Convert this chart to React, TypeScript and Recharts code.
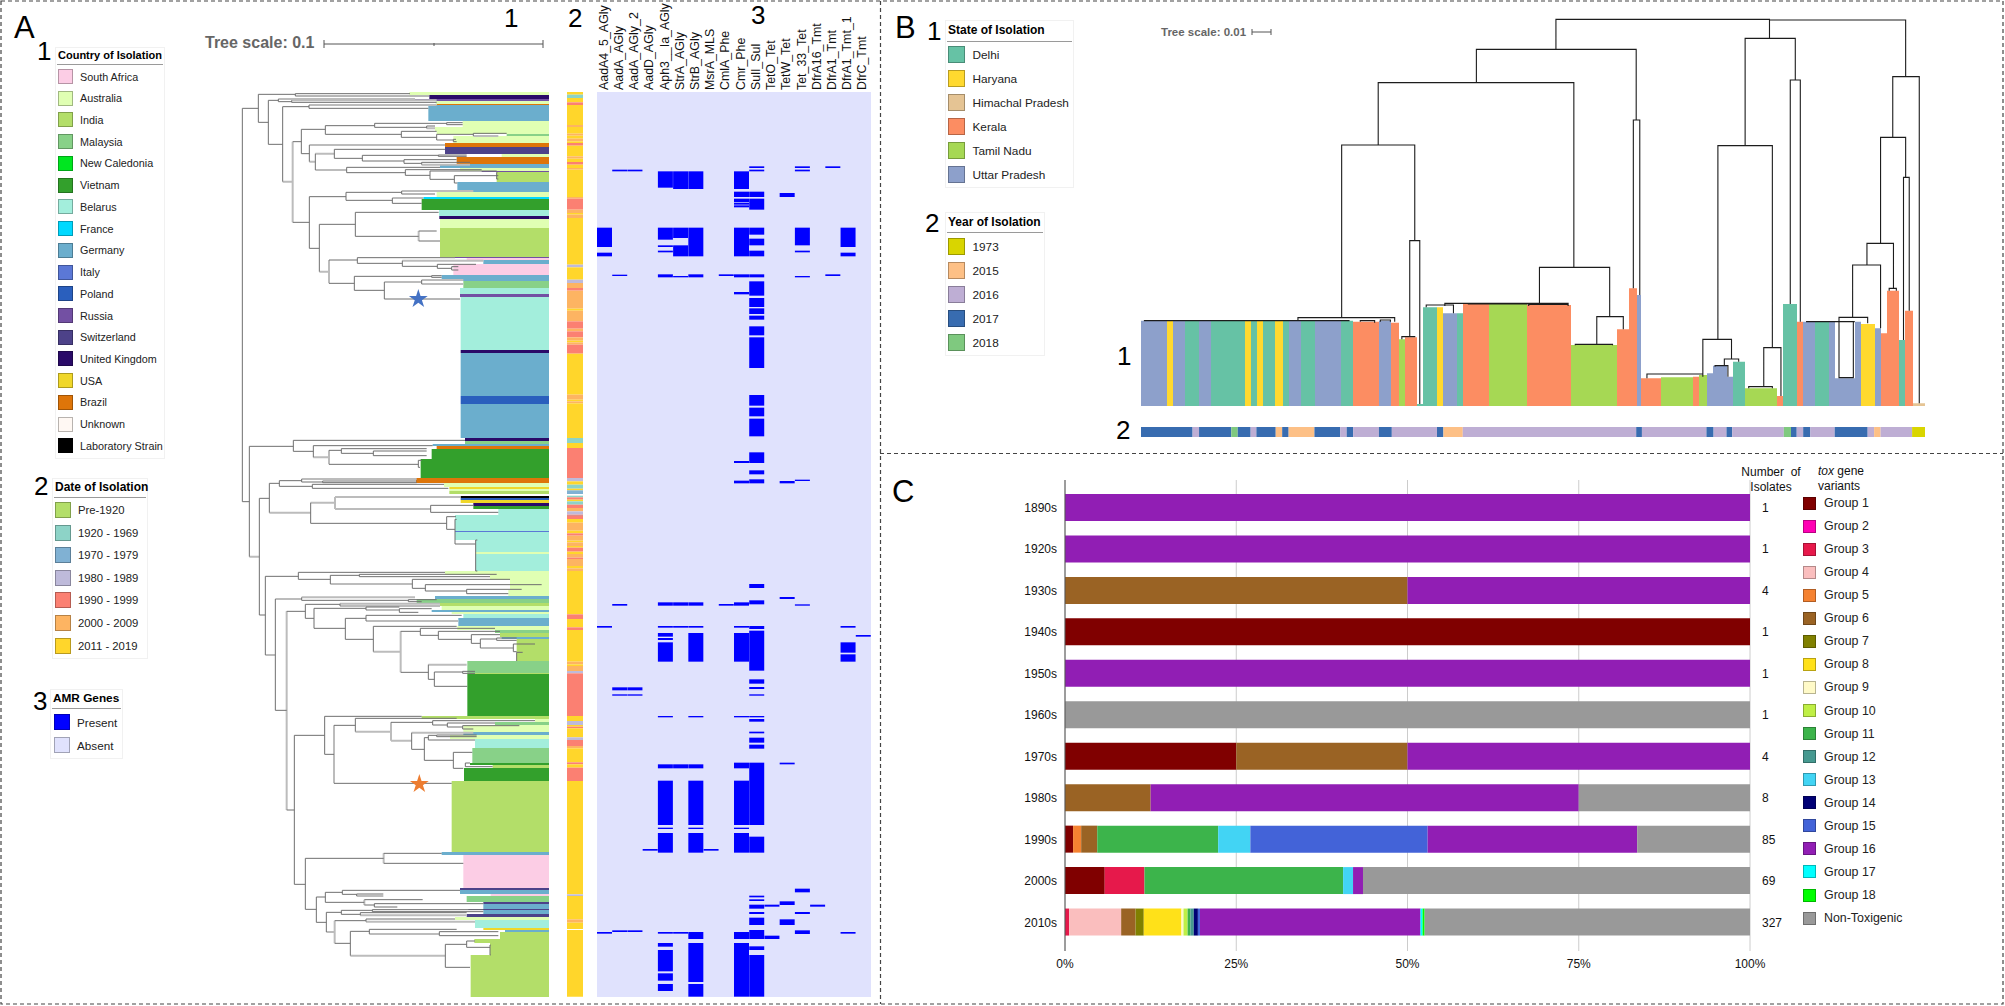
import React from "react"
import {
  Bar,
  BarChart,
  CartesianGrid,
  Cell,
  ComposedChart,
  Line,
  Scatter,
  XAxis,
  YAxis,
  ZAxis,
} from "recharts"

const FONT = '"Liberation Sans", Arial, sans-serif'

// ---------- Panel A legends ----------
const countryColors: Record<string, string> = {
  "South Africa": "#fccde5",
  Australia: "#e0ffb3",
  India: "#b3de69",
  Malaysia: "#88d188",
  "New Caledonia": "#00e620",
  Vietnam: "#33a02c",
  Belarus: "#a3eedc",
  France: "#00d9ff",
  Germany: "#6baecd",
  Italy: "#5b78d6",
  Poland: "#2a5fbd",
  Russia: "#7350a3",
  Switzerland: "#4d4289",
  "United Kingdom": "#2a0a68",
  USA: "#f0d72a",
  Brazil: "#de7509",
  Unknown: "#fff8f3",
  "Laboratory Strain": "#000000",
}
const dateColors: Record<string, string> = {
  "Pre-1920": "#b3de69",
  "1920 - 1969": "#8dd3c7",
  "1970 - 1979": "#80b1d3",
  "1980 - 1989": "#bebada",
  "1990 - 1999": "#fb8072",
  "2000 - 2009": "#fdb462",
  "2011 - 2019": "#ffd62b",
}
const amrColors: Record<string, string> = { Present: "#0000ff", Absent: "#e0e2fd" }

// ---------- Panel A country strip: [country, last row, tip depth] ----------
const countryRuns: [string, number, number][] = [
  ["Australia", 3, 508], ["United Kingdom", 7, 568], ["Russia", 9, 525], ["Australia", 12, 587],
  ["Brazil", 13, 590], ["Germany", 29, 565], ["Australia", 35, 668], ["Australia", 39, 585],
  ["Australia", 42, 590], ["Malaysia", 44, 800], ["Australia", 51, 640], ["Brazil", 55, 615],
  ["Switzerland", 62, 615], ["Australia", 65, 785], ["Brazil", 72, 650], ["Germany", 76, 600],
  ["Australia", 79, 660], ["Russia", 80, 725], ["India", 90, 770], ["Germany", 100, 652],
  ["Australia", 105, 590], ["France", 107, 550], ["Vietnam", 118, 545], ["Belarus", 124, 597],
  ["United Kingdom", 127, 598], ["Australia", 136, 600], ["India", 165, 600], ["Russia", 166, 645],
  ["South Africa", 168, 680], ["Germany", 172, 730], ["South Africa", 183, 640], ["Germany", 189, 605],
  ["Malaysia", 196, 670], ["Belarus", 202, 660], ["Russia", 205, 660], ["Belarus", 258, 662],
  ["United Kingdom", 261, 662], ["Germany", 304, 662], ["Poland", 312, 662], ["Germany", 346, 662],
  ["United Kingdom", 349, 675], ["Malaysia", 352, 675], ["Germany", 354, 578], ["Brazil", 357, 590],
  ["Vietnam", 367, 575], ["Vietnam", 386, 542], ["Brazil", 391, 528], ["Australia", 395, 612],
  ["USA", 397, 628], ["Australia", 399, 628], ["India", 402, 628], ["", 404, 0],
  ["Laboratory Strain", 406, 662], ["Poland", 408, 662], ["USA", 411, 662], ["United Kingdom", 414, 700],
  ["Vietnam", 417, 700], ["Belarus", 423, 775], ["Belarus", 439, 645], ["Italy", 440, 645],
  ["Belarus", 448, 645], ["Belarus", 460, 707], ["Australia", 462, 707], ["Belarus", 479, 707],
  ["Australia", 483, 615], ["Australia", 488, 750], ["Australia", 498, 810], ["Australia", 504, 805],
  ["Germany", 507, 585], ["Malaysia", 511, 530], ["India", 514, 600], ["Australia", 518, 605],
  ["Germany", 520, 575], ["Australia", 522, 635], ["Belarus", 526, 670], ["Germany", 534, 655],
  ["Australia", 538, 652], ["Malaysia", 541, 765], ["India", 545, 780], ["Germany", 547, 785],
  ["India", 569, 830], ["Malaysia", 581, 682], ["India", 582, 682], ["Vietnam", 624, 682],
  ["India", 627, 545], ["Australia", 630, 885], ["Malaysia", 633, 765], ["Australia", 640, 670],
  ["Germany", 643, 670], ["Australia", 647, 630], ["Belarus", 656, 705], ["Malaysia", 671, 697],
  ["Vietnam", 673, 690], ["India", 676, 758], ["Vietnam", 689, 672], ["India", 760, 635],
  ["Germany", 763, 605], ["South Africa", 796, 670], ["Switzerland", 798, 660], ["Germany", 802, 660],
  ["South Africa", 804, 752], ["Malaysia", 810, 680], ["Switzerland", 812, 730], ["Germany", 817, 730],
  ["Switzerland", 818, 685], ["Germany", 822, 730], ["Switzerland", 825, 680], ["Australia", 828, 645],
  ["Belarus", 836, 705], ["USA", 838, 730], ["Germany", 840, 795], ["India", 847, 780],
  ["India", 851, 703], ["India", 863, 750], ["India", 905, 692],
]

// ---------- Panel A date strip: [period, end], upper and lower stretch ----------
const dateUpper: [string, number][] = [
  ["2011 - 2019", 165], ["1920 - 1969", 175], ["2011 - 2019", 188], ["1990 - 1999", 196], ["2011 - 2019", 256],
  ["2000 - 2009", 262], ["2011 - 2019", 282], ["2000 - 2009", 288], ["2011 - 2019", 297], ["2000 - 2009", 305],
  ["2011 - 2019", 310], ["1990 - 1999", 318], ["2011 - 2019", 350], ["2000 - 2009", 357], ["2011 - 2019", 367],
  ["1990 - 1999", 375], ["2011 - 2019", 385], ["2000 - 2009", 390], ["2011 - 2019", 472], ["2000 - 2009", 477],
  ["1990 - 1999", 510], ["2000 - 2009", 520], ["2011 - 2019", 525], ["2000 - 2009", 535], ["2011 - 2019", 675],
  ["1980 - 1989", 683], ["2011 - 2019", 720], ["1980 - 1989", 730], ["2000 - 2009", 745], ["1990 - 1999", 753],
  ["2000 - 2009", 807], ["2011 - 2019", 813], ["2000 - 2009", 845], ["1990 - 1999", 867], ["2000 - 2009", 875],
  ["1990 - 1999", 893], ["2000 - 2009", 903], ["2011 - 2019", 908], ["2000 - 2009", 915], ["1990 - 1999", 942],
  ["2011 - 2019", 1065], ["2000 - 2009", 1080], ["2011 - 2019", 1085], ["2000 - 2009", 1091], ["2011 - 2019", 1195],
  ["1920 - 1969", 1210], ["2011 - 2019", 1225], ["1990 - 1999", 1315], ["1980 - 1989", 1325], ["2011 - 2019", 1335],
  ["1920 - 1969", 1347], ["2011 - 2019", 1352], ["1970 - 1979", 1363], ["", 1368], ["1920 - 1969", 1373],
  ["1990 - 1999", 1380], ["2011 - 2019", 1385], ["1920 - 1969", 1395], ["1990 - 1999", 1405], ["2000 - 2009", 1415],
  ["1980 - 1989", 1425], ["1990 - 1999", 1440],
]
const dateLower: [string, number][] = [
  ["1970 - 1979", 17], ["1990 - 1999", 27], ["2011 - 2019", 38], ["2000 - 2009", 62], ["2011 - 2019", 70],
  ["1990 - 1999", 77], ["2000 - 2009", 92], ["2011 - 2019", 97], ["2000 - 2009", 108], ["2011 - 2019", 113],
  ["1990 - 1999", 125], ["2011 - 2019", 132], ["2000 - 2009", 143], ["1990 - 1999", 147], ["2000 - 2009", 168],
  ["2011 - 2019", 175], ["2000 - 2009", 183], ["2011 - 2019", 313], ["1990 - 1999", 327], ["2011 - 2019", 352],
  ["1990 - 1999", 360], ["2011 - 2019", 455], ["2000 - 2009", 463], ["2011 - 2019", 468], ["2000 - 2009", 483],
  ["1980 - 1989", 490], ["1990 - 1999", 618], ["2011 - 2019", 633], ["1980 - 1989", 645], ["2011 - 2019", 650],
  ["1990 - 1999", 655], ["2011 - 2019", 682], ["1980 - 1989", 690], ["1990 - 1999", 708], ["2000 - 2009", 715],
  ["2011 - 2019", 757], ["1990 - 1999", 763], ["2011 - 2019", 773], ["1990 - 1999", 813], ["2011 - 2019", 1153],
  ["1980 - 1989", 1158], ["2011 - 2019", 1228], ["2000 - 2009", 1238], ["2011 - 2019", 1257], ["", 1260],
  ["2011 - 2019", 1460],
]
const ROW_SPAN = 2715
const UPPER_SHIFT = -157
const LOWER_SHIFT = 1254

// ---------- Panel A AMR genes: present stretches per gene ----------
const genes = [
  "AadA4_5_AGly", "AadA_AGly", "AadA_AGly_2", "AadD_AGly", "Aph3__Ia_AGly", "StrA_AGly", "StrB_AGly", "MsrA_MLS",
  "CmlA_Phe", "Cmr_Phe", "SulI_Sul", "TetO_Tet", "TetW_Tet", "Tet_33_Tet", "DfrA16_Tmt", "DfrA1_Tmt", "DfrA1_Tmt_1", "DfrC_Tmt",
]
type Span = [number, number]
const genesUpper: Span[][] = [
  [[564, 622], [639, 650]],
  [[390, 395], [705, 709]],
  [[390, 395]],
  [],
  [[395, 444], [564, 600], [617, 622], [633, 638], [704, 713]],
  [[395, 448], [564, 595], [617, 650], [709, 713]],
  [[395, 448], [564, 650], [704, 713]],
  [],
  [[704, 709]],
  [[395, 448], [456, 472], [477, 488], [490, 495], [497, 503], [564, 650], [704, 713], [757, 764], [1264, 1270], [1323, 1331]],
  [[380, 385], [390, 395], [456, 472], [477, 510], [564, 585], [597, 617], [633, 650], [704, 713], [725, 768], [775, 802], [806, 823], [828, 840], [860, 887], [893, 985], [1066, 1098], [1104, 1130], [1137, 1190], [1238, 1270], [1292, 1304], [1319, 1331]],
  [],
  [[460, 472], [1324, 1331]],
  [[380, 385], [390, 395], [564, 617], [633, 638], [709, 713], [1320, 1324]],
  [],
  [[380, 385], [704, 709]],
  [[564, 622], [639, 650]],
  [],
]
const genesLower: Span[][] = [
  [[348, 353], [1266, 1271]],
  [[282, 287], [532, 541], [553, 557], [1261, 1266]],
  [[532, 541], [553, 557], [1261, 1266]],
  [[1017, 1022]],
  [[277, 287], [348, 353], [369, 380], [384, 390], [397, 455], [618, 622], [763, 775], [812, 945], [953, 957], [969, 1028], [1266, 1271], [1299, 1310], [1320, 1384], [1390, 1412], [1422, 1443]],
  [[277, 287], [348, 353], [763, 775], [1266, 1271]],
  [[277, 287], [348, 353], [369, 455], [618, 622], [763, 775], [812, 945], [953, 957], [969, 1028], [1266, 1287], [1299, 1416], [1422, 1460]],
  [[1017, 1022]],
  [[282, 287]],
  [[277, 287], [348, 353], [369, 455], [618, 622], [758, 775], [812, 945], [953, 957], [969, 1028], [1266, 1287], [1299, 1460]],
  [[222, 234], [271, 283], [348, 357], [362, 482], [508, 521], [531, 537], [553, 557], [618, 622], [627, 635], [665, 670], [683, 698], [704, 716], [758, 945], [980, 1028], [1157, 1162], [1168, 1173], [1184, 1196], [1206, 1212], [1223, 1245], [1260, 1287], [1309, 1320], [1335, 1460]],
  [[1184, 1190], [1277, 1287]],
  [[261, 267], [758, 763], [1174, 1185], [1228, 1245]],
  [[283, 287], [1136, 1147], [1206, 1212], [1261, 1272]],
  [[1184, 1190]],
  [],
  [[348, 353], [397, 428], [433, 455], [1266, 1271]],
  [[375, 380]],
]

// ---------- Panel A tree: [node depth, top, bottom, top child depth, bottom child depth, thick parts] ----------
type Clade = [number, number, number, number, number, string?]
const treeUpper: Clade[] = [
  [7, 40, 1220, 55, 28], [55, -2, 82, 166, 85], [166, -4, 3, 510, 568], [85, 16, 148, 115, 128],
  [115, 12, 20, 525, 155, "t"], [155, 16, 22, 590, 590, "t"], [128, 35, 260, 207, 158, "b"], [207, 30, 40, 590, 565, "t"],
  [158, 140, 382, 184, 208, "v"], [184, 103, 176, 256, 208], [256, 92, 118, 404, 484], [404, 85, 97, 620, 560],
  [620, 83, 89, 668, 668], [560, 93, 100, 585, 585, "b"], [484, 109, 127, 590, 590], [590, 118, 135, 700, 640, "b"],
  [700, 115, 123, 800, 775, "b"], [640, 133, 140, 648, 650], [208, 150, 200, 615, 226, "tb"], [226, 176, 225, 283, 320, "tb"],
  [283, 163, 190, 615, 367], [367, 181, 198, 595, 492], [595, 180, 184, 680, 680], [492, 194, 205, 650, 545],
  [545, 202, 209, 690, 690, "b"], [320, 217, 233, 600, 496], [496, 224, 241, 725, 570], [570, 228, 253, 770, 643],
  [770, 232, 252, 772, 775], [643, 242, 264, 775, 652], [208, 305, 460, 318, 238], [318, 292, 316, 485, 457],
  [485, 288, 297, 700, 585, "t"], [457, 309, 325, 550, 545, "t"], [238, 388, 530, 346, 267, "b"], [346, 352, 424, 596, 536],
  [536, 408, 438, 590, 600, "v"], [267, 495, 565, 352, 343, "v"], [352, 488, 505, 645, 487], [487, 497, 514, 730, 592, "t"],
  [592, 508, 520, 708, 635], [635, 515, 525, 655, 655], [343, 544, 586, 575, 433], [575, 542, 547, 605, 605],
  [433, 561, 612, 545, 660, "t"], [545, 555, 567, 670, 670, "tb"],
]
const treeMiddle: Clade[] = [
  [28, 409, 740, 160, 58, "b"], [160, 391, 424, 675, 220], [220, 407, 442, 578, 267, "b"], [267, 421, 463, 304, 535, "v"],
  [304, 416, 430, 560, 400], [400, 423, 437, 560, 560], [535, 451, 472, 545, 540], [58, 565, 915, 88, 76],
  [88, 520, 608, 118, 212, "b"], [118, 512, 529, 185, 217], [185, 507, 516, 530, 248, "t"], [248, 513, 518, 530, 530],
  [217, 523, 535, 612, 625], [212, 578, 640, 285, 620, "t"], [285, 561, 597, 660, 572, "vtb"], [572, 586, 607, 700, 775],
  [620, 620, 658, 648, 645], [645, 628, 702, 650, 707],
]
const treeLower: Clade[] = [
  [707, 45, 138, 712, 712], [76, 154, 390, 175, 106, "b"], [175, 142, 163, 615, 271], [271, 151, 177, 358, 517, "b"],
  [358, 148, 155, 770, 750], [517, 163, 190, 810, 556], [556, 179, 198, 905, 680], [680, 193, 206, 845, 805],
  [106, 222, 556, 185, 140, "t"], [185, 217, 226, 525, 505, "t"], [505, 224, 230, 590, 545], [140, 259, 855, 196, 163, "v"],
  [196, 238, 280, 300, 222], [300, 236, 243, 600, 600, "tb"], [222, 250, 310, 378, 316], [378, 246, 255, 478, 478, "b"],
  [478, 251, 262, 575, 535], [316, 280, 343, 378, 400], [378, 271, 288, 665, 655, "b"], [400, 304, 380, 650, 482, "b"],
  [482, 319, 442, 541, 565, "v"], [541, 310, 331, 765, 595], [595, 319, 343, 780, 694], [694, 329, 355, 780, 721],
  [721, 342, 369, 770, 820, "b"], [770, 339, 346, 830, 830], [820, 357, 380, 885, 830], [830, 382, 408, 848, 830],
  [565, 419, 463, 680, 583, "t"], [583, 441, 484, 668, 682], [668, 439, 445, 705, 705], [163, 631, 1078, 254, 196],
  [254, 574, 688, 545, 282], [282, 601, 775, 346, 635, "v"], [346, 580, 620, 650, 453, "b"], [453, 592, 647, 578, 515, "vb"],
  [578, 587, 600, 885, 622], [622, 594, 606, 765, 668], [668, 602, 612, 838, 700], [515, 623, 673, 700, 553, "t"],
  [553, 638, 706, 565, 640], [565, 631, 645, 590, 705], [590, 630, 635, 710, 710], [640, 682, 730, 697, 670],
]
const treeBottom: Clade[] = [
  [676, 9, 20, 690, 758], [196, 295, 448, 431, 229], [431, 280, 310, 605, 670, "v"], [229, 411, 487, 256, 259],
  [256, 397, 427, 307, 373], [307, 391, 403, 660, 350], [350, 402, 408, 430, 430, "b"], [373, 419, 435, 548, 403, "v"],
  [403, 431, 441, 730, 472], [259, 457, 516, 304, 284, "b"], [304, 451, 463, 397, 361], [397, 449, 455, 730, 730],
  [361, 458, 466, 680, 680, "b"], [284, 482, 550, 378, 331, "v"], [378, 477, 485, 645, 705, "b"], [331, 514, 587, 388, 616, "b"],
  [388, 508, 522, 650, 598, "b"], [598, 515, 527, 775, 775], [616, 553, 622, 680, 690], [680, 543, 562, 705, 750],
  [750, 555, 585, 752, 752],
]
const treeShifts = { upper: 9, middle: 654, lower: 1299, bottom: 2004 }
const blueStar = [{ x: 535, y: 621 }]
const orangeStar = [{ x: 538, y: 2076 }]

// ---------- Panel B ----------
const stateColors: Record<string, string> = {
  Delhi: "#66c2a5",
  Haryana: "#ffd92f",
  "Himachal Pradesh": "#e5c494",
  Kerala: "#fc8d62",
  "Tamil Nadu": "#a6d854",
  "Uttar Pradesh": "#8da0cb",
}
const yearColors: Record<string, string> = {
  "1973": "#d9d500",
  "2015": "#fdc086",
  "2016": "#beaed4",
  "2017": "#386cb0",
  "2018": "#7fc97f",
}
// [state, tip position end, root distance of the tips]
const stateRuns: [string, number, number][] = [
  ["Uttar Pradesh", 36, 962], ["Haryana", 44, 962], ["Uttar Pradesh", 62, 962], ["Delhi", 82, 962], ["Uttar Pradesh", 99, 962],
  ["Delhi", 144, 962], ["Haryana", 153, 962], ["Delhi", 161, 962], ["Haryana", 170, 962], ["Delhi", 188, 962],
  ["Haryana", 197, 962], ["Delhi", 206, 962], ["Uttar Pradesh", 223, 962], ["Delhi", 242, 962], ["Uttar Pradesh", 279, 962],
  ["Delhi", 296, 962], ["Kerala", 332, 965], ["Uttar Pradesh", 350, 962], ["Kerala", 359, 968], ["Tamil Nadu", 368, 1018],
  ["Kerala", 386, 1012], ["Delhi", 394, 1212], ["Delhi", 412, 922], ["Haryana", 422, 922], ["Uttar Pradesh", 440, 940],
  ["Delhi", 449, 940], ["Kerala", 485, 912], ["Tamil Nadu", 538, 912], ["Kerala", 601, 915], ["Tamil Nadu", 664, 1035],
  ["Kerala", 682, 988], ["Kerala", 691, 865], ["Uttar Pradesh", 699, 885], ["Kerala", 727, 1135], ["Tamil Nadu", 771, 1132],
  ["Kerala", 780, 1130], ["Tamil Nadu", 789, 1125], ["Uttar Pradesh", 798, 1120], ["Uttar Pradesh", 817, 1097], ["Uttar Pradesh", 826, 1130],
  ["Delhi", 843, 1085], ["Tamil Nadu", 888, 1165], ["Kerala", 897, 1188], ["Delhi", 914, 912], ["Kerala", 924, 965],
  ["Uttar Pradesh", 941, 965], ["Delhi", 960, 965], ["Uttar Pradesh", 969, 965], ["Uttar Pradesh", 995, 1135], ["Uttar Pradesh", 1005, 965],
  ["Haryana", 1023, 972], ["Uttar Pradesh", 1032, 985], ["Kerala", 1041, 1000], ["Kerala", 1059, 872], ["Delhi", 1067, 1020],
  ["Kerala", 1077, 932], ["Himachal Pradesh", 1094, 1210],
]
const yearRuns: [string, number][] = [
  ["2017", 72], ["2016", 81], ["2017", 126], ["2018", 135], ["2017", 153], ["2016", 161], ["2017", 188], ["2015", 197], ["2017", 206],
  ["2015", 242], ["2017", 278], ["2016", 287], ["2017", 296], ["2016", 332], ["2017", 350], ["2016", 413], ["2017", 422], ["2015", 449],
  ["2016", 691], ["2017", 699], ["2016", 789], ["2017", 799], ["2016", 817], ["2017", 825], ["2016", 897], ["2018", 907], ["2017", 915],
  ["2016", 924], ["2017", 934], ["2016", 968], ["2017", 1014], ["2016", 1023], ["2015", 1032], ["2016", 1076], ["1973", 1094],
]
const TIP_SPAN = 1094
const ROOT_SPAN = 1218
// [root distance, left tip position, right tip position, left child distance, right child distance]
const treeB: number[][] = [
  [58, 579, 877, 148, 115], [60, 877, 1067, 115, 230], [148, 468, 691, 248, 360], [248, 331, 604, 435, 802],
  [435, 280, 382, 955, 722], [722, 375, 389, 1012, 1212], [953, 219, 354, 962, 965], [962, 4, 291, 962, 962],
  [962, 306, 326, 965, 968], [960, 334, 348, 965, 965], [1010, 364, 382, 1018, 1012], [802, 556, 654, 910, 950],
  [910, 424, 596, 918, 912], [915, 398, 436, 922, 940], [912, 456, 541, 912, 912], [913, 541, 596, 918, 918],
  [950, 636, 673, 1033, 988], [1033, 606, 658, 1036, 1036], [360, 687, 696, 865, 885], [115, 843, 913, 437, 240],
  [437, 805, 881, 1018, 1043], [1018, 784, 824, 1122, 1077], [1122, 706, 784, 1135, 1130], [1077, 814, 834, 1097, 1085],
  [1097, 801, 819, 1100, 1130], [1043, 869, 893, 1160, 1188], [1160, 848, 881, 1165, 1165], [240, 906, 920, 912, 965],
  [230, 1049, 1086, 412, 1210], [412, 1032, 1067, 730, 532], [532, 1064, 1072, 1020, 932], [730, 1013, 1050, 795, 865],
  [795, 993, 1032, 952, 985], [952, 974, 1014, 965, 970], [965, 928, 996, 965, 965], [965, 974, 994, 1133, 1133],
  [1133, 974, 994, 1135, 1135], [865, 1044, 1054, 872, 872],
]

// ---------- Panel C ----------
const decades = ["1890s", "1920s", "1930s", "1940s", "1950s", "1960s", "1970s", "1980s", "1990s", "2000s", "2010s"]
const isolateCounts = [1, 1, 4, 1, 1, 1, 4, 8, 85, 69, 327]
const toxGroups = [
  "Group 1", "Group 2", "Group 3", "Group 4", "Group 5", "Group 6", "Group 7", "Group 8", "Group 9", "Group 10",
  "Group 11", "Group 12", "Group 13", "Group 14", "Group 15", "Group 16", "Group 17", "Group 18", "Non-Toxigenic",
]
const toxColors = [
  "#800000", "#ff00b4", "#e6194b", "#fabebe", "#f58231", "#9a6324", "#808000", "#ffe119", "#fffac8", "#bfef45",
  "#3cb44b", "#469990", "#42d4f4", "#000075", "#4363d8", "#911eb4", "#00ffff", "#00ff00", "#999999",
]
const decadeShares: Record<string, number>[] = [
  { "Group 16": 100 },
  { "Group 16": 100 },
  { "Group 6": 50, "Group 16": 50 },
  { "Group 1": 100 },
  { "Group 16": 100 },
  { "Non-Toxigenic": 100 },
  { "Group 1": 25, "Group 6": 25, "Group 16": 50 },
  { "Group 6": 12.5, "Group 16": 62.5, "Non-Toxigenic": 25 },
  { "Group 1": 1.18, "Group 5": 1.18, "Group 6": 2.35, "Group 11": 17.65, "Group 13": 4.7, "Group 15": 25.88, "Group 16": 30.59, "Non-Toxigenic": 16.47 },
  { "Group 1": 5.8, "Group 3": 5.8, "Group 11": 29, "Group 13": 1.45, "Group 16": 1.45, "Non-Toxigenic": 56.5 },
  { "Group 3": 0.6, "Group 4": 7.6, "Group 6": 2.1, "Group 7": 1.2, "Group 8": 5.5, "Group 9": 0.3, "Group 10": 0.6, "Group 11": 0.4, "Group 12": 0.5, "Group 14": 0.6, "Group 15": 0.3, "Group 16": 32.2, "Group 17": 0.3, "Group 18": 0.3, "Non-Toxigenic": 47.5 },
]
const percentTicks = [0, 25, 50, 75, 100]

// ---------- tables built from the lists above ----------
const decadeTable = decades.map((decade, i) => ({ decade, isolates: isolateCounts[i], ...decadeShares[i] }))

function expandCountry() {
  const rows: { row: number; span: [number, number] | null; fill: string }[] = []
  let row = 0
  countryRuns.forEach(([country, end, tip]) => {
    for (; row < end; row++) {
      rows.push({ row, span: country ? [tip, 927] : null, fill: countryColors[country] || "none" })
    }
  })
  return rows
}
const countryTable = expandCountry()

const TIP_COUNT = 392
const stateTable = Array.from({ length: TIP_COUNT }, (_, i) => {
  const pos = ((i + 0.5) * TIP_SPAN) / TIP_COUNT
  const run = stateRuns.find((r) => pos < r[1]) || stateRuns[stateRuns.length - 1]
  return { tip: i, span: [run[2], ROOT_SPAN], fill: stateColors[run[0]] }
})

type Seg = { key: string; end: number }
const dateSegs: Seg[] = [
  ...dateUpper.map(([key, end]) => ({ key, end: end + UPPER_SHIFT })),
  ...dateLower.map(([key, end]) => ({ key, end: end + LOWER_SHIFT })),
]
const yearSegs: Seg[] = yearRuns.map(([key, end]) => ({ key, end }))

function stackRow(segs: Seg[]) {
  const row: Record<string, number | string> = { name: "strip" }
  let last = 0
  segs.forEach((s, i) => {
    row[`s${i}`] = s.end - last
    last = s.end
  })
  return row
}

const geneSpans = genes.map((_, i) => [
  ...genesUpper[i].map(([a, b]) => [a + UPPER_SHIFT, b + UPPER_SHIFT]),
  ...genesLower[i].map(([a, b]) => [a + LOWER_SHIFT, b + LOWER_SHIFT]),
])
const geneTable = genes.map((gene, i) => {
  const row: Record<string, number | string> = { gene }
  let cursor = 0
  geneSpans[i].forEach(([a, b], k) => {
    row[`gap${k}`] = a - cursor
    row[`run${k}`] = b - a
    cursor = b
  })
  return row
})
const maxSpans = Math.max(...geneSpans.map((s) => s.length))

type Pt = { x: number; y: number | null }
function cladePaths() {
  const thin: Pt[] = []
  const thick: Pt[] = []
  const add = (list: Pt[], x1: number, y1: number, x2: number, y2: number) => {
    list.push({ x: x1, y: y1 }, { x: x2, y: y2 }, { x: x2, y: null })
  }
  const sections: [Clade[], number][] = [
    [treeUpper, treeShifts.upper],
    [treeMiddle, treeShifts.middle],
    [treeLower, treeShifts.lower],
    [treeBottom, treeShifts.bottom],
  ]
  sections.forEach(([clades, shift]) => {
    clades.forEach(([x, top, bottom, c1, c2, thickParts = ""]) => {
      add(thickParts.includes("v") ? thick : thin, x, top + shift, x, bottom + shift)
      add(thickParts.includes("t") ? thick : thin, x, top + shift, c1, top + shift)
      add(thickParts.includes("b") ? thick : thin, x, bottom + shift, c2, bottom + shift)
    })
  })
  return { thin, thick }
}
const treeAPaths = cladePaths()

const treeBPath: Pt[] = []
treeB.forEach(([d, left, right, d1, d2]) => {
  treeBPath.push({ x: left, y: d1 }, { x: left, y: d }, { x: right, y: d }, { x: right, y: d2 }, { x: right, y: null })
})

// ---------- small components ----------
const Mark = ({ x, cy, size, children }: any) => (
  <div style={{ position: "absolute", left: x, top: cy, transform: "translateY(-50%)", fontFamily: FONT, fontSize: size, lineHeight: 1, color: "#000" }}>
    {children}
  </div>
)

const LegendBox = ({ left, top, width, height, title, titleSize, titleY, lineY, colors, swatchX, swatchSize, firstY, step, textX, textSize }: any) => (
  <>
    {title && <div style={{ position: "absolute", left, top, width, height, border: "1px solid #f1f1f1", boxSizing: "border-box" }} />}
    {title && (
      <div style={{ position: "absolute", left: left + 3, top: titleY, transform: "translateY(-50%)", fontFamily: FONT, fontWeight: 700, fontSize: titleSize, whiteSpace: "nowrap" }}>
        {title}
      </div>
    )}
    {title && <div style={{ position: "absolute", left: left + 2, top: lineY, width: width - 4, height: 1, background: "#9a9a9a" }} />}
    {Object.entries(colors).map(([name, fill]: any, i) => (
      <React.Fragment key={name}>
        <div style={{ position: "absolute", left: swatchX, top: firstY + i * step, width: swatchSize, height: swatchSize, background: fill, border: "1px solid rgba(0,0,0,0.28)", boxSizing: "border-box" }} />
        <div style={{ position: "absolute", left: textX, top: firstY + i * step + swatchSize / 2, transform: "translateY(-50%)", fontFamily: FONT, fontSize: textSize, whiteSpace: "nowrap", color: "#222" }}>
          {name}
        </div>
      </React.Fragment>
    ))}
  </>
)

const GeneTick = ({ x, y, payload }: any) => (
  <text x={x + 3} y={y} transform={`rotate(-90 ${x + 3} ${y})`} fontFamily={FONT} fontSize={12.4} fill="#111">
    {payload.value}
  </text>
)

const Abs = ({ left, top, children }: any) => <div style={{ position: "absolute", left, top }}>{children}</div>

const App = () => {
  return (
    <div style={{ position: "absolute", left: 0, top: 0, width: 2005, height: 1006, background: "#fff", overflow: "hidden", fontFamily: FONT }}>
      {/* Panel frames */}
      <svg width={2005} height={1006} style={{ position: "absolute", left: 0, top: 0 }}>
        <g stroke="#444" strokeWidth={1.2} strokeDasharray="4 3" fill="none">
          <rect x={1} y={1} width={2002} height={1003} />
          <line x1={880.5} y1={1} x2={880.5} y2={1004} />
          <line x1={880} y1={453.5} x2={2003} y2={453.5} />
        </g>
      </svg>

      {/* Panel A */}
      <Mark x={14} cy={27} size={31}>A</Mark>
      <Mark x={37} cy={51} size={26}>1</Mark>
      <Mark x={34} cy={486} size={26}>2</Mark>
      <Mark x={33} cy={701} size={26}>3</Mark>
      <Mark x={504} cy={18} size={26}>1</Mark>
      <Mark x={568} cy={18} size={26}>2</Mark>
      <Mark x={751} cy={15} size={26}>3</Mark>

      <LegendBox left={55} top={47} width={110} height={412} title="Country of Isolation" titleSize={11} titleY={55} lineY={64} colors={countryColors} swatchX={58} swatchSize={15} firstY={69} step={21.73} textX={80} textSize={10.8} />
      <LegendBox left={52} top={478} width={96} height={181} title="Date of Isolation" titleSize={12} titleY={487} lineY={497} colors={dateColors} swatchX={55} swatchSize={16} firstY={502} step={22.6} textX={78} textSize={11.3} />
      <LegendBox left={50} top={689} width={73} height={70} title="AMR Genes" titleSize={11.8} titleY={698} lineY={708} colors={amrColors} swatchX={54} swatchSize={16} firstY={714} step={23.4} textX={77} textSize={11.7} />

      <div style={{ position: "absolute", left: 205, top: 43, transform: "translateY(-50%)", fontWeight: 700, fontSize: 16, color: "#666", whiteSpace: "nowrap" }}>Tree scale: 0.1</div>
      <svg width={240} height={14} style={{ position: "absolute", left: 320, top: 37 }}>
        <g stroke="#555" strokeWidth={1}>
          <line x1={4} y1={7} x2={223} y2={7} />
          <line x1={4} y1={3} x2={4} y2={11} />
          <line x1={114} y1={6} x2={114} y2={9} />
          <line x1={223} y1={3} x2={223} y2={11} />
        </g>
      </svg>

      {/* Country strip at the tree tips */}
      <Abs left={240} top={92}>
        <BarChart width={340} height={905} data={countryTable} layout="vertical" margin={{ top: 0, right: 0, bottom: 0, left: 0 }} barCategoryGap={0}>
          <XAxis type="number" domain={[0, 1020]} hide />
          <YAxis type="category" dataKey="row" hide />
          <Bar dataKey="span" isAnimationActive={false}>
            {countryTable.map((r) => (
              <Cell key={r.row} fill={r.fill} />
            ))}
          </Bar>
        </BarChart>
      </Abs>

      {/* Tree A */}
      <Abs left={240} top={92}>
        <ComposedChart width={340} height={905} margin={{ top: 0, right: 0, bottom: 0, left: 0 }}>
          <XAxis type="number" dataKey="x" domain={[0, 1020]} hide />
          <YAxis type="number" dataKey="y" domain={[0, ROW_SPAN]} reversed hide />
          <ZAxis type="number" range={[110, 110]} />
          <Line data={treeAPaths.thick} dataKey="y" stroke="#bcbcbc" strokeWidth={2} dot={false} activeDot={false} isAnimationActive={false} />
          <Line data={treeAPaths.thin} dataKey="y" stroke="#6f6f6f" strokeWidth={1} dot={false} activeDot={false} isAnimationActive={false} />
          <Scatter data={blueStar} dataKey="y" shape="star" fill="#4472c4" isAnimationActive={false} />
          <Scatter data={orangeStar} dataKey="y" shape="star" fill="#ed7d31" isAnimationActive={false} />
        </ComposedChart>
      </Abs>

      {/* Date strip */}
      <Abs left={567} top={92}>
        <BarChart width={16} height={905} data={[stackRow(dateSegs)]} margin={{ top: 0, right: 0, bottom: 0, left: 0 }} barCategoryGap={0}>
          <XAxis dataKey="name" hide />
          <YAxis type="number" domain={[0, ROW_SPAN]} reversed hide />
          {dateSegs.map((s, i) => (
            <Bar key={i} dataKey={`s${i}`} stackId="date" fill={dateColors[s.key] || "none"} isAnimationActive={false} />
          ))}
        </BarChart>
      </Abs>

      {/* AMR heat map */}
      <Abs left={597} top={0}>
        <BarChart width={274} height={997} data={geneTable} margin={{ top: 0, right: 0, bottom: 0, left: 0 }} barCategoryGap={0}>
          <CartesianGrid fill={amrColors.Absent} horizontal={false} vertical={false} />
          <XAxis dataKey="gene" orientation="top" height={92} interval={0} axisLine={false} tickLine={false} tickSize={0} tick={<GeneTick />} />
          <YAxis type="number" domain={[0, ROW_SPAN]} reversed hide />
          {Array.from({ length: maxSpans }).flatMap((_, k) => [
            <Bar key={`gap${k}`} dataKey={`gap${k}`} stackId="amr" fill="none" isAnimationActive={false} />,
            <Bar key={`run${k}`} dataKey={`run${k}`} stackId="amr" fill={amrColors.Present} isAnimationActive={false} />,
          ])}
        </BarChart>
      </Abs>

      {/* Panel B */}
      <Mark x={895} cy={27} size={31}>B</Mark>
      <Mark x={927} cy={31} size={26}>1</Mark>
      <Mark x={925} cy={223} size={26}>2</Mark>
      <Mark x={1117} cy={356} size={26}>1</Mark>
      <Mark x={1116} cy={430} size={26}>2</Mark>
      <LegendBox left={945} top={20} width={129} height={168} title="State of Isolation" titleSize={12} titleY={30} lineY={41} colors={stateColors} swatchX={948} swatchSize={17} firstY={46} step={24} textX={972.5} textSize={11.8} />
      <LegendBox left={945} top={212} width={100} height={144} title="Year of Isolation" titleSize={12} titleY={222} lineY={232} colors={yearColors} swatchX={948} swatchSize={17} firstY={238} step={24} textX={972.5} textSize={11.8} />
      <div style={{ position: "absolute", left: 1161, top: 32, transform: "translateY(-50%)", fontWeight: 700, fontSize: 11.5, color: "#666", whiteSpace: "nowrap" }}>Tree scale: 0.01</div>
      <svg width={30} height={10} style={{ position: "absolute", left: 1248, top: 27 }}>
        <g stroke="#555" strokeWidth={1}>
          <line x1={4} y1={5} x2={23} y2={5} />
          <line x1={4} y1={2} x2={4} y2={8} />
          <line x1={23} y1={2} x2={23} y2={8} />
        </g>
      </svg>

      <Abs left={1141} top={0}>
        <BarChart width={784} height={406} data={stateTable} margin={{ top: 0, right: 0, bottom: 0, left: 0 }} barCategoryGap={0}>
          <XAxis dataKey="tip" hide />
          <YAxis type="number" domain={[0, ROOT_SPAN]} reversed hide />
          <Bar dataKey="span" isAnimationActive={false}>
            {stateTable.map((r) => (
              <Cell key={r.tip} fill={r.fill} />
            ))}
          </Bar>
        </BarChart>
      </Abs>
      <Abs left={1141} top={0}>
        <ComposedChart width={784} height={406} margin={{ top: 0, right: 0, bottom: 0, left: 0 }}>
          <XAxis type="number" dataKey="x" domain={[0, TIP_SPAN]} hide />
          <YAxis type="number" dataKey="y" domain={[0, ROOT_SPAN]} reversed hide />
          <Line data={treeBPath} dataKey="y" stroke="#1c1c1c" strokeWidth={1.1} dot={false} activeDot={false} isAnimationActive={false} />
        </ComposedChart>
      </Abs>
      <Abs left={1141} top={427}>
        <BarChart width={784} height={10} data={[stackRow(yearSegs)]} layout="vertical" margin={{ top: 0, right: 0, bottom: 0, left: 0 }} barCategoryGap={0}>
          <XAxis type="number" domain={[0, TIP_SPAN]} hide />
          <YAxis type="category" dataKey="name" hide />
          {yearSegs.map((s, i) => (
            <Bar key={i} dataKey={`s${i}`} stackId="year" fill={yearColors[s.key]} isAnimationActive={false} />
          ))}
        </BarChart>
      </Abs>

      {/* Panel C */}
      <Mark x={892} cy={491} size={31}>C</Mark>
      <Abs left={1000} top={470}>
        <BarChart width={800} height={511} data={decadeTable} layout="vertical" margin={{ top: 10, right: 0, bottom: 0, left: 0 }} barSize={27}>
          <CartesianGrid horizontal={false} stroke="#cccccc" />
          <XAxis
            type="number"
            domain={[0, 100]}
            ticks={percentTicks}
            tickFormatter={(v: number) => `${v}%`}
            axisLine={false}
            tickLine={false}
            height={30}
            tick={{ fontSize: 12, fontFamily: FONT, fill: "#111" }}
          />
          <YAxis
            type="category"
            dataKey="decade"
            width={65}
            padding={{ top: 7, bottom: 8 }}
            tickLine={false}
            axisLine={{ stroke: "#555" }}
            tick={{ fontSize: 12, fontFamily: FONT, fill: "#111" }}
          />
          <YAxis
            yAxisId="isolates"
            orientation="right"
            type="category"
            dataKey="isolates"
            width={50}
            padding={{ top: 7, bottom: 8 }}
            tickLine={false}
            axisLine={false}
            tickMargin={6}
            interval={0}
            tick={{ fontSize: 12, fontFamily: FONT, fill: "#111" }}
          />
          {toxGroups.map((g, i) => (
            <Bar key={g} dataKey={g} stackId="tox" fill={toxColors[i]} isAnimationActive={false} />
          ))}
        </BarChart>
      </Abs>
      <div style={{ position: "absolute", left: 1741, top: 465, fontSize: 12, lineHeight: "15px", textAlign: "center", width: 60, color: "#111" }}>
        Number&nbsp; of
        <br />
        Isolates
      </div>
      <div style={{ position: "absolute", left: 1818, top: 464, fontSize: 12, lineHeight: "15px", color: "#111" }}>
        <i>tox</i> gene
        <br />
        variants
      </div>
      <LegendBox
        colors={Object.fromEntries(toxGroups.map((g, i) => [g, toxColors[i]]))}
        swatchX={1803}
        swatchSize={13}
        firstY={496.5}
        step={23.06}
        textX={1824}
        textSize={12.4}
      />
    </div>
  )
}

export default App
